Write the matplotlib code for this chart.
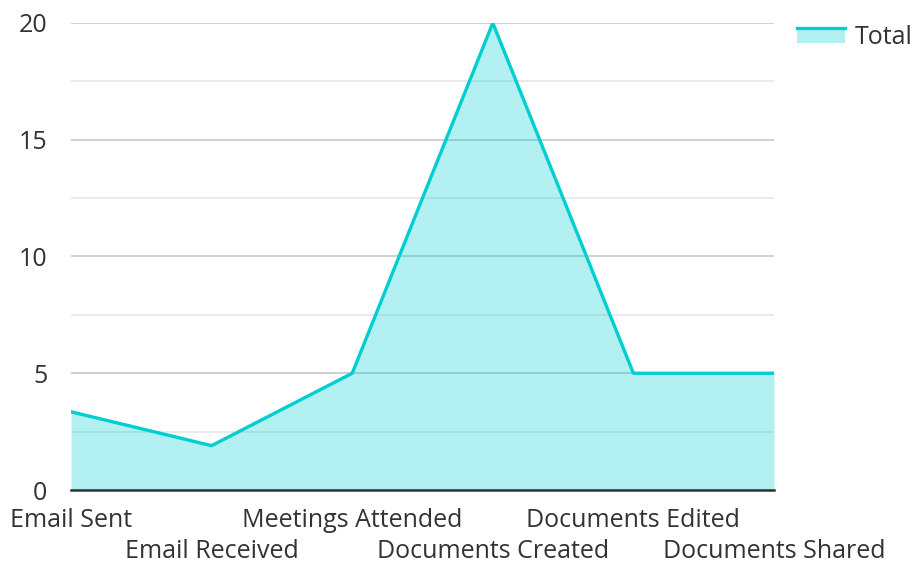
import numpy as np
import matplotlib.pyplot as plt
from matplotlib.legend_handler import HandlerBase
from matplotlib.patches import Rectangle
from matplotlib.lines import Line2D

plt.rcParams['font.family'] = ['Open Sans', 'DejaVu Sans']

# data
categories = ['Email Sent', 'Email Received', 'Meetings Attended',
              'Documents Created', 'Documents Edited', 'Documents Shared']
totals = [3.35, 1.9, 5, 20, 5, 5]

line_color = '#00CED1'
fill_color = '#B2EFEF'
text_color = '#333333'


# legend swatch: filled box with the line along its top edge
class AreaHandler(HandlerBase):
    def create_artists(self, legend, orig_handle, xdescent, ydescent,
                       width, height, fontsize, trans):
        rect = Rectangle((-xdescent, -ydescent), width, height,
                         facecolor=fill_color, edgecolor='none', transform=trans)
        top = -ydescent + height
        ln = Line2D([-xdescent, -xdescent + width], [top, top],
                    color=line_color, lw=2.4, transform=trans)
        return [rect, ln]


fig = plt.figure(figsize=(9.15, 5.62), dpi=100)
ax = fig.add_axes([0.0776, 0.1281, 0.7683, 0.831])

x = np.arange(len(categories))
ax.fill_between(x, totals, 0, color=line_color, alpha=0.3, lw=0, zorder=2)
ax.plot(x, totals, color=line_color, lw=2.4, zorder=3, label='Total')

ax.set_xlim(0, len(categories) - 1)
ax.set_ylim(0, 20)

# grid: darker at 5s, lighter at 2.5s
ax.set_yticks([0, 5, 10, 15, 20])
ax.set_yticks([2.5, 7.5, 12.5, 17.5], minor=True)
ax.grid(axis='y', which='major', color='#c8c8c8', lw=1.2, zorder=1)
ax.grid(axis='y', which='minor', color='#e6e6e6', lw=1.2, zorder=1)
ax.tick_params(axis='y', which='both', length=0, pad=17,
               labelsize=18, labelcolor=text_color)

# x labels staggered on two rows
ax.set_xticks(x[::2])
ax.set_xticklabels(categories[::2])
ax.set_xticks(x[1::2], minor=True)
ax.set_xticklabels(categories[1::2], minor=True)
ax.tick_params(axis='x', which='major', length=0, pad=13,
               labelsize=18, labelcolor=text_color)
ax.tick_params(axis='x', which='minor', length=0, pad=35,
               labelsize=18, labelcolor=text_color)

for s in ['top', 'right', 'left']:
    ax.spines[s].set_visible(False)
ax.spines['bottom'].set_color(text_color)
ax.spines['bottom'].set_linewidth(1.8)
ax.spines['bottom'].set_zorder(4)

handle = Rectangle((0, 0), 1, 1)
fig.legend([handle], ['Total'], handler_map={Rectangle: AreaHandler()},
           loc='upper right', bbox_to_anchor=(1.0, 0.96), frameon=False,
           borderaxespad=0, borderpad=0.1,
           fontsize=18, labelcolor=text_color, handlelength=1.92,
           handleheight=0.55, handletextpad=0.4)

fig.savefig('out.png', dpi=100)
